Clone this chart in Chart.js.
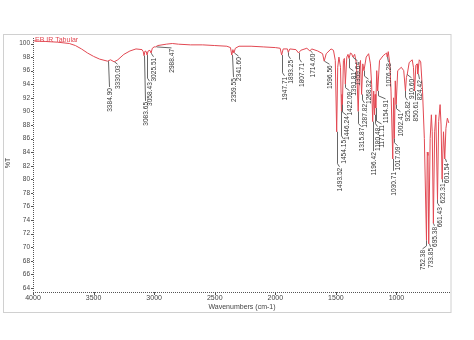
<!DOCTYPE html>
<html><head><meta charset="utf-8">
<script src="https://cdn.jsdelivr.net/npm/chart.js@4/dist/chart.umd.min.js"></script>
<style>html,body{margin:0;padding:0;background:#fff;}canvas{display:block;}</style>
</head><body>
<canvas id="c" width="474" height="340"></canvas>
<script>
// ---- data ----
const spectrumWavenumbers = [
 4000,3900,3800,3700,3650,3600,3550,3500,3450,3384.9,3360,3330.03,3300,3250,3200,3150,3100,3090,3083.65,3075,3065,3058.43,3050,3035,3025.51,3015,3000,2988.47,2970,2900,2850,2800,2700,2600,2500,2400,2370,2359.55,2350,2341.6,2330,2300,2200,2100,2000,1960,1947.71,1935,1900,1893.25,1880,1830,1807.71,1790,1740,1714.6,1700,1650,1610,1596.56,1580,1540,1520,1505,1493.52,1485,1475,1462,1454.15,1450,1446.24,1438,1430,1422.09,1410,1400,1391.81,1380,1370,1359.64,1345,1330,1315.87,1305,1297,1287.82,1278,1268.32,1250,1230,1215,1205,1196.42,1188,1180.48,1176,1171.11,1163,1154.91,1140,1110,1090,1082,1076.28,1068,1055,1045,1030.71,1024,1017.09,1010,1002.41,990,960,940,925.82,918,910.6,895,870,860,850.61,840,830,824.42,812,800,785,770,752.38,746,740,733.85,722,712,705,695.38,685,675,661.43,652,640,632,623.31,612,601.54,592,580,568
];
const spectrumTransmittance = [
 100.4,100.3,100.2,100.0,99.7,99.2,98.6,98.1,97.7,97.4,97.6,97.3,97.6,98.4,98.9,99.2,99.1,98.8,98.2,98.9,98.8,98.3,98.9,99.0,98.6,99.3,99.5,99.5,99.7,99.9,100.0,99.9,99.8,99.8,99.7,99.6,99.4,98.3,99.1,98.6,99.3,99.6,99.6,99.5,99.4,99.3,98.3,99.2,99.2,98.7,99.2,99.1,98.6,99.0,99.3,98.9,99.2,98.9,98.5,97.4,98.5,99.2,99.0,97.5,87.0,96.5,98.0,96.5,90.0,92.5,91.0,97.5,97.8,94.0,98.0,98.4,97.8,98.6,98.5,98.0,98.4,97.0,90.0,96.5,97.5,92.5,97.0,96.0,98.0,98.5,97.0,94.0,88.5,93.0,89.5,92.5,90.5,96.0,93.0,97.5,98.2,98.5,98.6,98.0,98.8,97.0,93.0,83.0,92.0,86.0,94.5,91.0,96.0,96.5,96.0,93.0,95.0,95.5,97.2,97.6,96.5,93.0,96.8,97.0,95.5,97.6,97.3,93.0,86.0,71.0,84.0,83.5,70.5,86.0,89.5,87.0,73.5,87.0,89.5,77.0,88.5,91.0,88.0,80.0,87.0,83.0,87.5,89.0,88.3
];
const peakWavenumbers = [
 3384.90,3330.03,3083.65,3058.43,3025.51,2988.47,2359.55,2341.60,1947.71,1893.25,1807.71,1714.60,1596.56,
 1493.52,1454.15,1446.24,1422.09,1391.81,1359.64,1315.87,1287.82,1268.32,1196.42,1180.48,1171.11,1154.91,1076.28,
 1030.71,1017.09,1002.41,925.82,910.60,850.61,824.42,752.38,733.85,695.38,661.43,623.31,601.54
];
// where each peak label column sits (cm-1) and the %T level of the label's upper end
const peakLabelWavenumbers = [
 3369,3307,3076,3043,3006,2862,2346,2309,1925,1880,1789,1694,1554,
 1475,1443,1418,1393,1360,1323,1294,1265,1236,1195,1162,1129,1096,1071,
 1030,997,972,915,881,848,816,791,725,692,650,626,593
];
const peakLabelTransmittance = [
 93.45,96.8,91.4,94.3,97.9,99.2,94.9,98.0,95.1,97.6,97.1,98.5,96.8,
 81.7,85.8,89.3,92.9,95.8,97.3,87.6,91.1,94.6,84.0,87.6,88.0,91.7,97.1,
 81.1,84.8,89.8,91.5,94.8,91.5,94.6,69.6,69.9,73.0,75.9,79.4,82.4
];
const xTickValues = [4000,3500,3000,2500,2000,1500,1000];
const yTickValues = [64,66,68,70,72,74,76,78,80,82,84,86,88,90,92,94,96,98,100];
const spectrumTitle = 'EB IR Tabular';

const FONT = "'Liberation Sans', Arial, sans-serif";
const RED = 'rgb(226,72,82)';

const annotate = {
  id: 'annotate',
  afterDatasetsDraw(chart) {
    const {ctx, chartArea: a, scales: {x, y}} = chart;
    ctx.save();
    // outer frame
    ctx.strokeStyle = '#d0d0d0'; ctx.lineWidth = 1;
    ctx.strokeRect(3.5, a.top + 0.5, a.right - 3.5, 312 - a.top);
    // dotted axes
    ctx.strokeStyle = '#555'; ctx.setLineDash([1, 1]);
    ctx.beginPath();
    ctx.moveTo(a.left + 0.5, a.top + 4); ctx.lineTo(a.left + 0.5, a.bottom + 0.5);
    ctx.moveTo(a.left, a.bottom + 0.5); ctx.lineTo(a.right, a.bottom + 0.5);
    ctx.stroke();
    ctx.setLineDash([]);
    ctx.beginPath();
    yTickValues.forEach(v => { const py = Math.round(y.getPixelForValue(v)) + 0.5; ctx.moveTo(a.left - 2, py); ctx.lineTo(a.left, py); });
    xTickValues.forEach(v => { const px = Math.round(x.getPixelForValue(v)) + 0.5; ctx.moveTo(px, a.bottom); ctx.lineTo(px, a.bottom + 3); });
    ctx.stroke();
    // leaders + labels
    ctx.strokeStyle = '#666'; ctx.lineWidth = 1;
    ctx.fillStyle = '#333';
    ctx.font = '6.6px ' + FONT;
    peakWavenumbers.forEach((w, i) => {
      const k = spectrumWavenumbers.findIndex(v => Math.abs(v - w) < 0.02);
      const pT = k >= 0 ? spectrumTransmittance[k] : 100;
      const px = Math.round(x.getPixelForValue(w)) + 0.5;
      const py = y.getPixelForValue(pT);
      const lx = Math.round(x.getPixelForValue(peakLabelWavenumbers[i])) + 0.5;
      const ly = y.getPixelForValue(peakLabelTransmittance[i]);
      ctx.beginPath();
      ctx.moveTo(px, py);
      if (Math.abs(lx - px) > 1) {
        const knee = Math.max(py, ly - 4);
        ctx.lineTo(px, knee);
      }
      ctx.lineTo(lx, ly - 1);
      ctx.stroke();
      ctx.save();
      ctx.translate(lx, ly);
      ctx.rotate(-Math.PI / 2);
      ctx.textAlign = 'right'; ctx.textBaseline = 'middle';
      ctx.fillText(w.toFixed(2), 0, 0.5);
      ctx.restore();
    });
    // spectrum title
    ctx.fillStyle = RED; ctx.font = '7px ' + FONT;
    ctx.textAlign = 'left'; ctx.textBaseline = 'alphabetic';
    ctx.fillText(spectrumTitle, a.left + 2, a.top + 8);
    ctx.restore();
  }
};

new Chart(document.getElementById('c'), {
  type: 'line',
  data: {
    datasets: [{
      data: spectrumWavenumbers.map((w, i) => ({x: w, y: spectrumTransmittance[i]})),
      borderColor: RED, borderWidth: 1, pointRadius: 0, tension: 0, fill: false
    }]
  },
  options: {
    responsive: false, animation: false, events: [],
    layout: {padding: {left: 3, right: 23, top: 34, bottom: 28}},
    plugins: {legend: {display: false}, tooltip: {enabled: false}},
    scales: {
      x: {
        type: 'linear', reverse: true, min: 550, max: 4000,
        afterBuildTicks: s => { s.ticks = xTickValues.map(v => ({value: v})); },
        afterFit: s => { s.height = 20; },
        grid: {display: false, drawTicks: false}, border: {display: false},
        ticks: {font: {family: FONT, size: 7}, color: '#444', padding: 2, maxRotation: 0, autoSkip: false, callback: v => String(v)},
        title: {display: true, text: 'Wavenumbers (cm-1)', font: {family: FONT, size: 7}, color: '#444', padding: {top: 0, bottom: 1}}
      },
      y: {
        min: 63.4, max: 101.4,
        afterBuildTicks: s => { s.ticks = yTickValues.map(v => ({value: v})); },
        afterFit: s => { s.width = 30; },
        grid: {display: false, drawTicks: false}, border: {display: false},
        ticks: {font: {family: FONT, size: 6.5}, color: '#444', padding: 3, autoSkip: false, callback: v => String(v)},
        title: {display: true, text: '%T', font: {family: FONT, size: 7}, color: '#444', padding: {top: 1, bottom: 0}}
      }
    }
  },
  plugins: [annotate]
});
</script>
</body></html>
